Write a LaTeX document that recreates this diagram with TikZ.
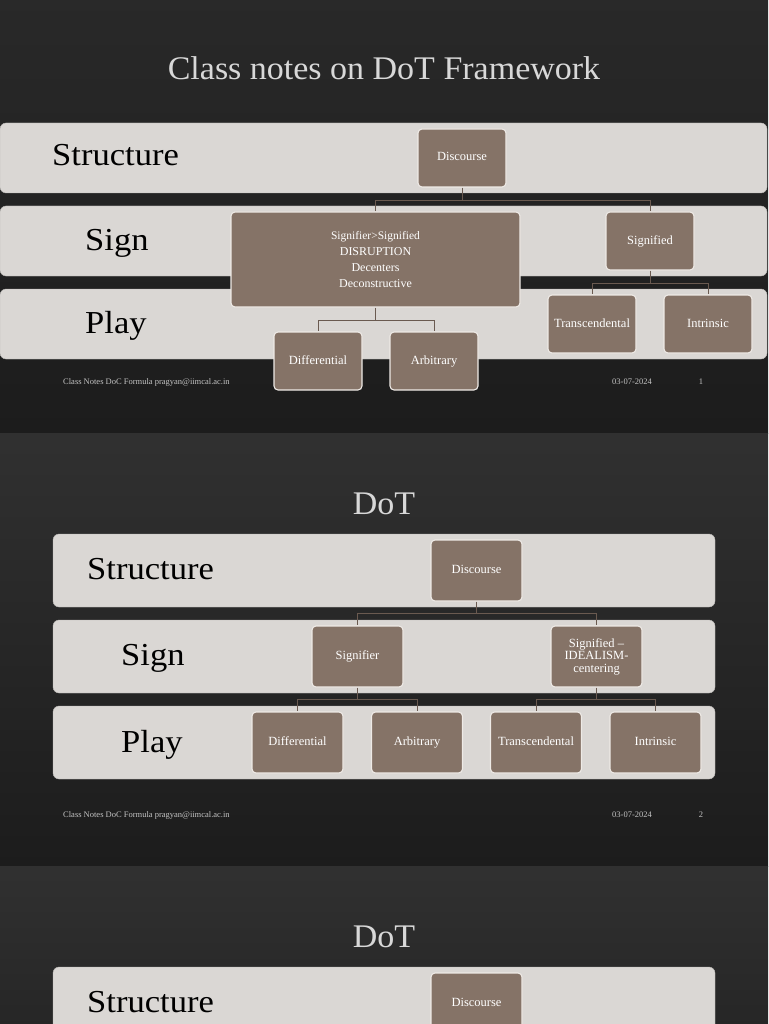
\documentclass[tikz,border=0pt]{standalone}
\usepackage{fontspec}
\setmainfont{Liberation Serif}
\newfontfamily\lblfont[FakeStretch=1.08]{Liberation Serif}
\newfontfamily\ttlfont[FakeStretch=1.03]{Liberation Serif}
\definecolor{bandc}{HTML}{DAD7D4}
\definecolor{boxc}{HTML}{857367}
\definecolor{boxedge}{HTML}{EEEAE6}
\definecolor{connc}{HTML}{6A5A50}
\definecolor{titlec}{HTML}{D8D8D8}
\definecolor{footc}{HTML}{C4C4C4}
\begin{document}
\begin{tikzpicture}[x=1pt,y=-1pt,
  band/.style={fill=bandc,draw=bandc!85!black,line width=0.4pt,rounded corners=6pt},
  bx/.style={draw=boxedge,fill=boxc,line width=1.1pt,rounded corners=4pt,text=white,
    align=center,inner sep=2pt,font=\fontsize{12.5}{13}\selectfont},
  sbx/.style={bx,minimum width=88pt,minimum height=58pt,text height=8.5pt,text depth=2.5pt},
  mbx/.style={bx,minimum width=91pt,minimum height=61pt,text height=8.5pt,text depth=2.5pt},
  lbl/.style={text=black,font=\lblfont\fontsize{32}{34}\selectfont,anchor=base west,inner sep=0pt},
  ttl/.style={text=titlec,font=\ttlfont\fontsize{33}{35}\selectfont,anchor=base,inner sep=0pt},
  ft/.style={text=footc,font=\fontsize{8.5}{9}\selectfont,inner sep=0pt},
  conn/.style={draw=connc,line width=0.8pt}]
\useasboundingbox (0,0) rectangle (768,1024);
% backgrounds
\shade[top color=black!84,bottom color=black!89] (0,0) rectangle (768,433);
\shade[top color=black!81,bottom color=black!89] (0,433) rectangle (768,866);
\shade[top color=black!81,bottom color=black!85] (0,866) rectangle (768,1024);

% ---------------- slide 1 ----------------
\node[ttl] (t1) at (384,80) {Class notes on DoT Framework};
\draw[band] (0,123) rectangle (767,193);
\draw[band] (0,206) rectangle (767,276);
\draw[band] (0,289) rectangle (767,359);
\node[lbl] (s1) at (52,166) {Structure};
\node[lbl] (g1) at (85,250) {Sign};
\node[lbl] (p1) at (85,333) {Play};

\node[sbx] (a1) at (462,158) {Discourse};
\node[bx,minimum width=289pt,minimum height=95pt,font=\fontsize{12}{16}\selectfont] (b1) at (375.5,259.5)
  {{\fontsize{11.5}{16}\selectfont Signifier>Signified}\\DISRUPTION\\Decenters\\Deconstructive};
\node[sbx] (c1) at (650,241) {Signified};
\node[sbx] (e1) at (592,324) {Transcendental};
\node[sbx] (f1) at (708,324) {Intrinsic};
\node[sbx] (h1) at (318,361) {Differential};
\node[sbx] (k1) at (434,361) {Arbitrary};

\draw[conn] (a1.south) -- ++(0,13) coordinate (j1) -| (b1.north);
\draw[conn] (j1) -| (c1.north);
\draw[conn] (b1.south) -- ++(0,13) coordinate (j2) -| (h1.north);
\draw[conn] (j2) -| (k1.north);
\draw[conn] (c1.south) -- ++(0,13) coordinate (j3) -| (e1.north);
\draw[conn] (j3) -| (f1.north);

\node[ft,anchor=west] (fa1) at (63,382) {Class Notes DoC Formula pragyan@iimcal.ac.in};
\node[ft] (fb1) at (632,382) {03-07-2024};
\node[ft] (fc1) at (701,382) {1};

% ---------------- slide 2 ----------------
\node[ttl] (t2) at (384,514) {DoT};
\draw[band] (53,534) rectangle (715,607);
\draw[band] (53,620) rectangle (715,693);
\draw[band] (53,706) rectangle (715,779);
\node[lbl] (s2) at (87,579) {Structure};
\node[lbl] (g2) at (121,665) {Sign};
\node[lbl] (p2) at (121,752) {Play};

\node[mbx] (a2) at (476.5,570.5) {Discourse};
\node[bx,minimum width=91pt,minimum height=61pt,font=\fontsize{12.5}{12.5}\selectfont] (c2) at (596.5,656.5) {Signified --\\IDEALISM-\\centering};
\node[mbx] (b2) at (357.5,656.5) {Signifier};
\node[mbx] (h2) at (297.5,742.5) {Differential};
\node[mbx] (k2) at (417,742.5) {Arbitrary};
\node[mbx] (e2) at (536,742.5) {Transcendental};
\node[mbx] (f2) at (655.5,742.5) {Intrinsic};

\draw[conn] (a2.south) -- ++(0,12) coordinate (j4) -| (b2.north);
\draw[conn] (j4) -| (c2.north);
\draw[conn] (b2.south) -- ++(0,12) coordinate (j5) -| (h2.north);
\draw[conn] (j5) -| (k2.north);
\draw[conn] (c2.south) -- ++(0,12) coordinate (j6) -| (e2.north);
\draw[conn] (j6) -| (f2.north);

\node[ft,anchor=west] (fa2) at (63,815) {Class Notes DoC Formula pragyan@iimcal.ac.in};
\node[ft] (fb2) at (632,815) {03-07-2024};
\node[ft] (fc2) at (701,815) {2};

% ---------------- slide 3 ----------------
\node[ttl] (t3) at (384,947) {DoT};
\draw[band] (53,967) rectangle (715,1040);
\node[lbl] (s3) at (87,1012) {Structure};
\node[mbx] (a3) at (476.5,1003.5) {Discourse};
\end{tikzpicture}
\end{document}
